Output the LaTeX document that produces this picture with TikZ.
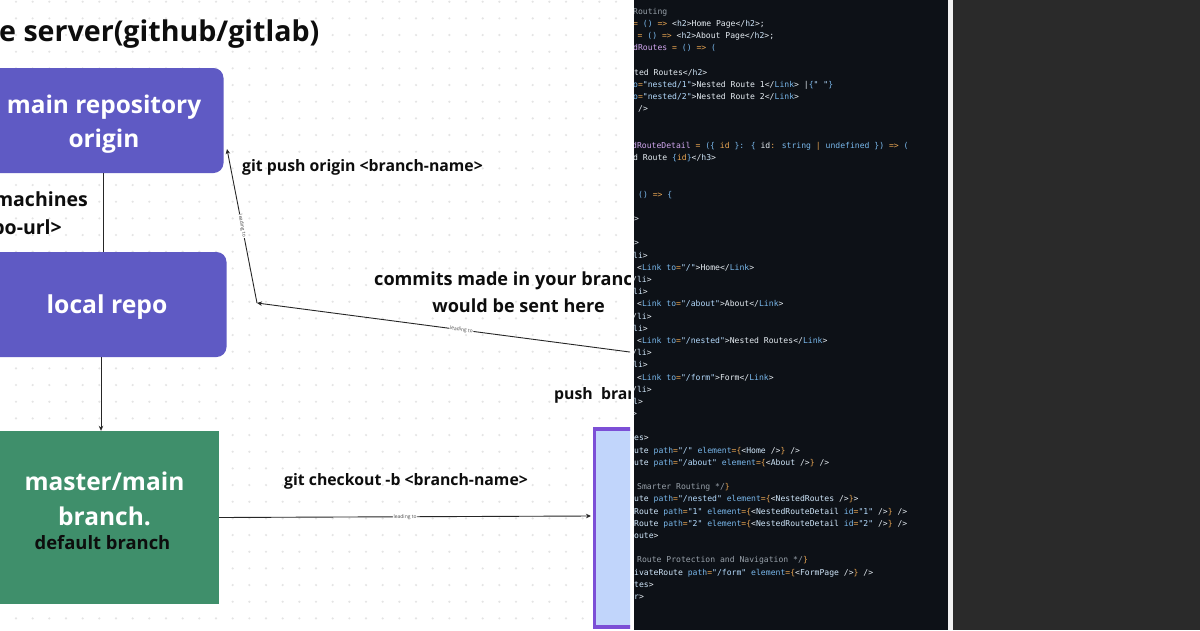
\documentclass[tikz,border=0pt]{standalone}
\usepackage{fontspec}
\setmainfont{Open Sans}
\newfontfamily\codefont{DejaVu Sans Mono}
\usetikzlibrary{arrows.meta}
\definecolor{repopurple}{HTML}{5F5AC4}
\definecolor{mastergreen}{HTML}{3F8F6B}
\definecolor{bluefill}{HTML}{C1D5FB}
\definecolor{blueedge}{HTML}{7C4FD6}
\definecolor{griddot}{HTML}{E4E4E4}
\definecolor{codebg}{HTML}{0D1117}
\definecolor{sidebg}{HTML}{2A2A2A}
\definecolor{gapcol}{HTML}{F2F2F2}
\definecolor{cwhite}{HTML}{E6EDF3}
\definecolor{ctag}{HTML}{79B8EC}
\definecolor{cstr}{HTML}{B5DCFF}
\definecolor{cname}{HTML}{CFE6FA}
\definecolor{cor}{HTML}{E8A552}
\definecolor{cpur}{HTML}{D2A8F0}
\definecolor{cgray}{HTML}{98A1AA}
\newcommand\kb[1]{\textcolor{ctag}{#1}}
\newcommand\ks[1]{\textcolor{cstr}{#1}}
\newcommand\ko[1]{\textcolor{cor}{#1}}
\newcommand\kp[1]{\textcolor{cpur}{#1}}
\newcommand\kg[1]{\textcolor{cgray}{#1}}
\newcommand\kn[1]{\textcolor{cname}{#1}}
\tikzset{
  x=1pt,y=-1pt,
  repobox/.style={fill=repopurple,rounded corners=10pt,inner sep=0pt},
  repotext/.style={text=white,font=\bfseries\fontsize{24.4}{34}\selectfont,align=center,inner sep=0pt},
  headtext/.style={text=black!95,font=\bfseries\fontsize{15.8}{22}\selectfont,inner sep=0pt,align=center},
  bigtext/.style={text=black!95,font=\bfseries\fontsize{18.1}{26}\selectfont,inner sep=0pt,align=center},
  linkline/.style={draw=black!85,line width=0.9pt},
  linkarrow/.style={linkline,-{Stealth[length=5pt,width=4.5pt]}},
  tiny label/.style={font=\fontsize{5}{5}\selectfont,text=black!70,fill=white,inner sep=0.6pt},
  codeline/.style={anchor=west,inner sep=0pt,text=cwhite,font=\codefont\fontsize{8.1}{10}\selectfont},
}
\newcommand\cl[3]{\node[codeline] (code#1) at (#2,{12.3+12.19*#1}) {\strut #3};}
\begin{document}
\begin{tikzpicture}
\useasboundingbox (0,0) rectangle (1200,630);
\fill[white] (0,0) rectangle (1200,630);
\begin{scope}
\clip (0,0) rectangle (630,630);
\foreach \i in {0,...,37}{\foreach \j in {0,...,37}{
  \fill[griddot] ({16+16.667*\i},{1.7+16.667*\j}) circle (1.2);
}}
\node[text=black!95,font=\bfseries\fontsize{28.6}{32}\selectfont,anchor=west,inner sep=0pt] (title) at (-1,34) {e server(github/gitlab)};
\node[repobox,minimum width=240pt,minimum height=105pt] (main) at (103.5,120.5) {};
\node[repotext] (mainlabel) at (104,124) {main repository\\origin};
\node[repobox,minimum width=246pt,minimum height=105pt] (local) at (103.5,304.5) {};
\node[repotext,font=\bfseries\fontsize{24.7}{34}\selectfont] (locallabel) at (107,307.5) {local repo};
\node[fill=mastergreen,minimum width=240pt,minimum height=173pt,inner sep=0pt] (master) at (99,517.5) {};
\node[text=white,font=\bfseries\fontsize{24.5}{35}\selectfont,align=center,inner sep=0pt] (masterlabel) at (104.5,498.5) {master/main\\branch.};
\node[headtext,font=\bfseries\fontsize{18.4}{22}\selectfont] (default) at (102.5,543) {default branch};
\node[bigtext,font=\bfseries\fontsize{19.5}{26}\selectfont,anchor=east] (machines) at (88,199) {machines};
\node[bigtext,font=\bfseries\fontsize{19.5}{26}\selectfont,anchor=east] (repourl) at (62,229) {po-url>};
\node[draw=blueedge,fill=bluefill,line width=3.5pt,minimum width=120pt,minimum height=198pt,inner sep=0pt] (feature) at (654.7,528) {};
\node[headtext,anchor=west] (pushcmd) at (242,167) {git push origin <branch-name>};
\node[bigtext,anchor=west] (commits1) at (374,281) {commits made in your branch};
\node[bigtext] (commits2) at (518.5,305.5) {would be sent here};
\node[headtext,anchor=west] (pushbr) at (554,395) {push\ \ bran};
\node[headtext,anchor=west] (checkout) at (284,481) {git checkout -b <branch-name>};
\coordinate (pushstart) at (632,352.3);
\coordinate (bend) at (257,303);
\coordinate (origintip) at (227,149);
\coordinate (featurein) at (591,516);
\draw[linkline] (main.south) -- (local.north);
\draw[linkarrow] (local.south -| master.north) ++(2,0) -- ([xshift=2pt]master.north);
\draw[linkarrow] (master.east) -- node[tiny label,midway,sloped]{leading to} (featurein);
\draw[linkarrow] (pushstart) -- node[tiny label,pos=0.455,sloped]{leading to} (bend);
\draw[linkarrow] (bend) -- node[tiny label,midway,sloped]{leading to} (origintip);
\end{scope}
\fill[codebg] (634,0) rectangle (948,630);
\fill[gapcol] (948,0) rectangle (952.5,630);
\fill[sidebg] (952.5,0) rectangle (1200,630);
\begin{scope}
\clip (634,0) rectangle (948,630);
\cl{0}{633}{\kg{Routing}}
\cl{1}{633}{\ko{=} \kb{()} \ko{=>} <\kn{h2}>Home Page</\kn{h2}>;}
\cl{2}{637.5}{\ko{=} \kb{()} \ko{=>} <\kn{h2}>About Page</\kn{h2}>;}
\cl{3}{633}{\kp{dRoutes} \ko{=} \kb{()} \ko{=>} \kb{(}}
\cl{5}{634}{ted Routes</\kn{h2}>}
\cl{6}{633}{\kb{o}\ko{=}\ks{"nested/1"}>Nested Route 1</\kb{Link}> |\kb{\{}\ks{" "}\kb{\}}}
\cl{7}{633}{\kb{o}\ko{=}\ks{"nested/2"}>Nested Route 2</\kb{Link}>}
\cl{8}{638}{/>}
\cl{11}{632}{\kp{dRouteDetail} \ko{=} \kb{(\{} \ko{id} \kb{\}:} \kb{\{} id\ko{:} \kb{string} \ko{|} \kb{undefined} \kb{\})} \ko{=>} \kb{(}}
\cl{12}{633}{d Route \kb{\{}\ko{id}\kb{\}}</\kn{h3}>}
\cl{15}{638}{\kb{()} \ko{=>} \kb{\{}}
\cl{17}{634}{>}
\cl{19}{634}{>}
\cl{20}{633}{\kn{li}>}
\cl{21}{637}{<\kb{Link} \kb{to}\ko{=}\ks{"/"}>Home</\kb{Link}>}
\cl{22}{632}{/\kn{li}>}
\cl{23}{633}{\kn{li}>}
\cl{24}{637}{<\kb{Link} \kb{to}\ko{=}\ks{"/about"}>About</\kb{Link}>}
\cl{25}{632}{/\kn{li}>}
\cl{26}{633}{\kn{li}>}
\cl{27}{637}{<\kb{Link} \kb{to}\ko{=}\ks{"/nested"}>Nested Routes</\kb{Link}>}
\cl{28}{632}{/\kn{li}>}
\cl{29}{633}{\kn{li}>}
\cl{30}{637}{<\kb{Link} \kb{to}\ko{=}\ks{"/form"}>Form</\kb{Link}>}
\cl{31}{632}{/\kn{li}>}
\cl{32}{633}{\kn{l}>}
\cl{33}{632}{>}
\cl{35}{634}{\kn{es}>}
\cl{36}{634}{\kn{ute} \kb{path}\ko{=}\ks{"/"} \kb{element}\ko{=\{}<\kn{Home} />\ko{\}} />}
\cl{37}{634}{\kn{ute} \kb{path}\ko{=}\ks{"/about"} \kb{element}\ko{=\{}<\kn{About} />\ko{\}} />}
\cl{39}{637}{\kg{Smarter Routing */}\ko{\}}}
\cl{40}{634}{\kn{ute} \kb{path}\ko{=}\ks{"/nested"} \kb{element}\ko{=\{}<\kn{NestedRoutes} />\ko{\}}>}
\cl{41}{634}{\kn{Route} \kb{path}\ko{=}\ks{"1"} \kb{element}\ko{=\{}<\kn{NestedRouteDetail} \kb{id}\ko{=}\ks{"1"} />\ko{\}} />}
\cl{42}{634}{\kn{Route} \kb{path}\ko{=}\ks{"2"} \kb{element}\ko{=\{}<\kn{NestedRouteDetail} \kb{id}\ko{=}\ks{"2"} />\ko{\}} />}
\cl{43}{634}{\kn{oute}>}
\cl{45}{637}{\kg{Route Protection and Navigation */}\ko{\}}}
\cl{46}{634}{\kn{ivateRoute} \kb{path}\ko{=}\ks{"/form"} \kb{element}\ko{=\{}<\kn{FormPage} />\ko{\}} />}
\cl{47}{634}{\kn{tes}>}
\cl{48}{634}{\kn{r}>}
\end{scope}
\end{tikzpicture}
\end{document}
